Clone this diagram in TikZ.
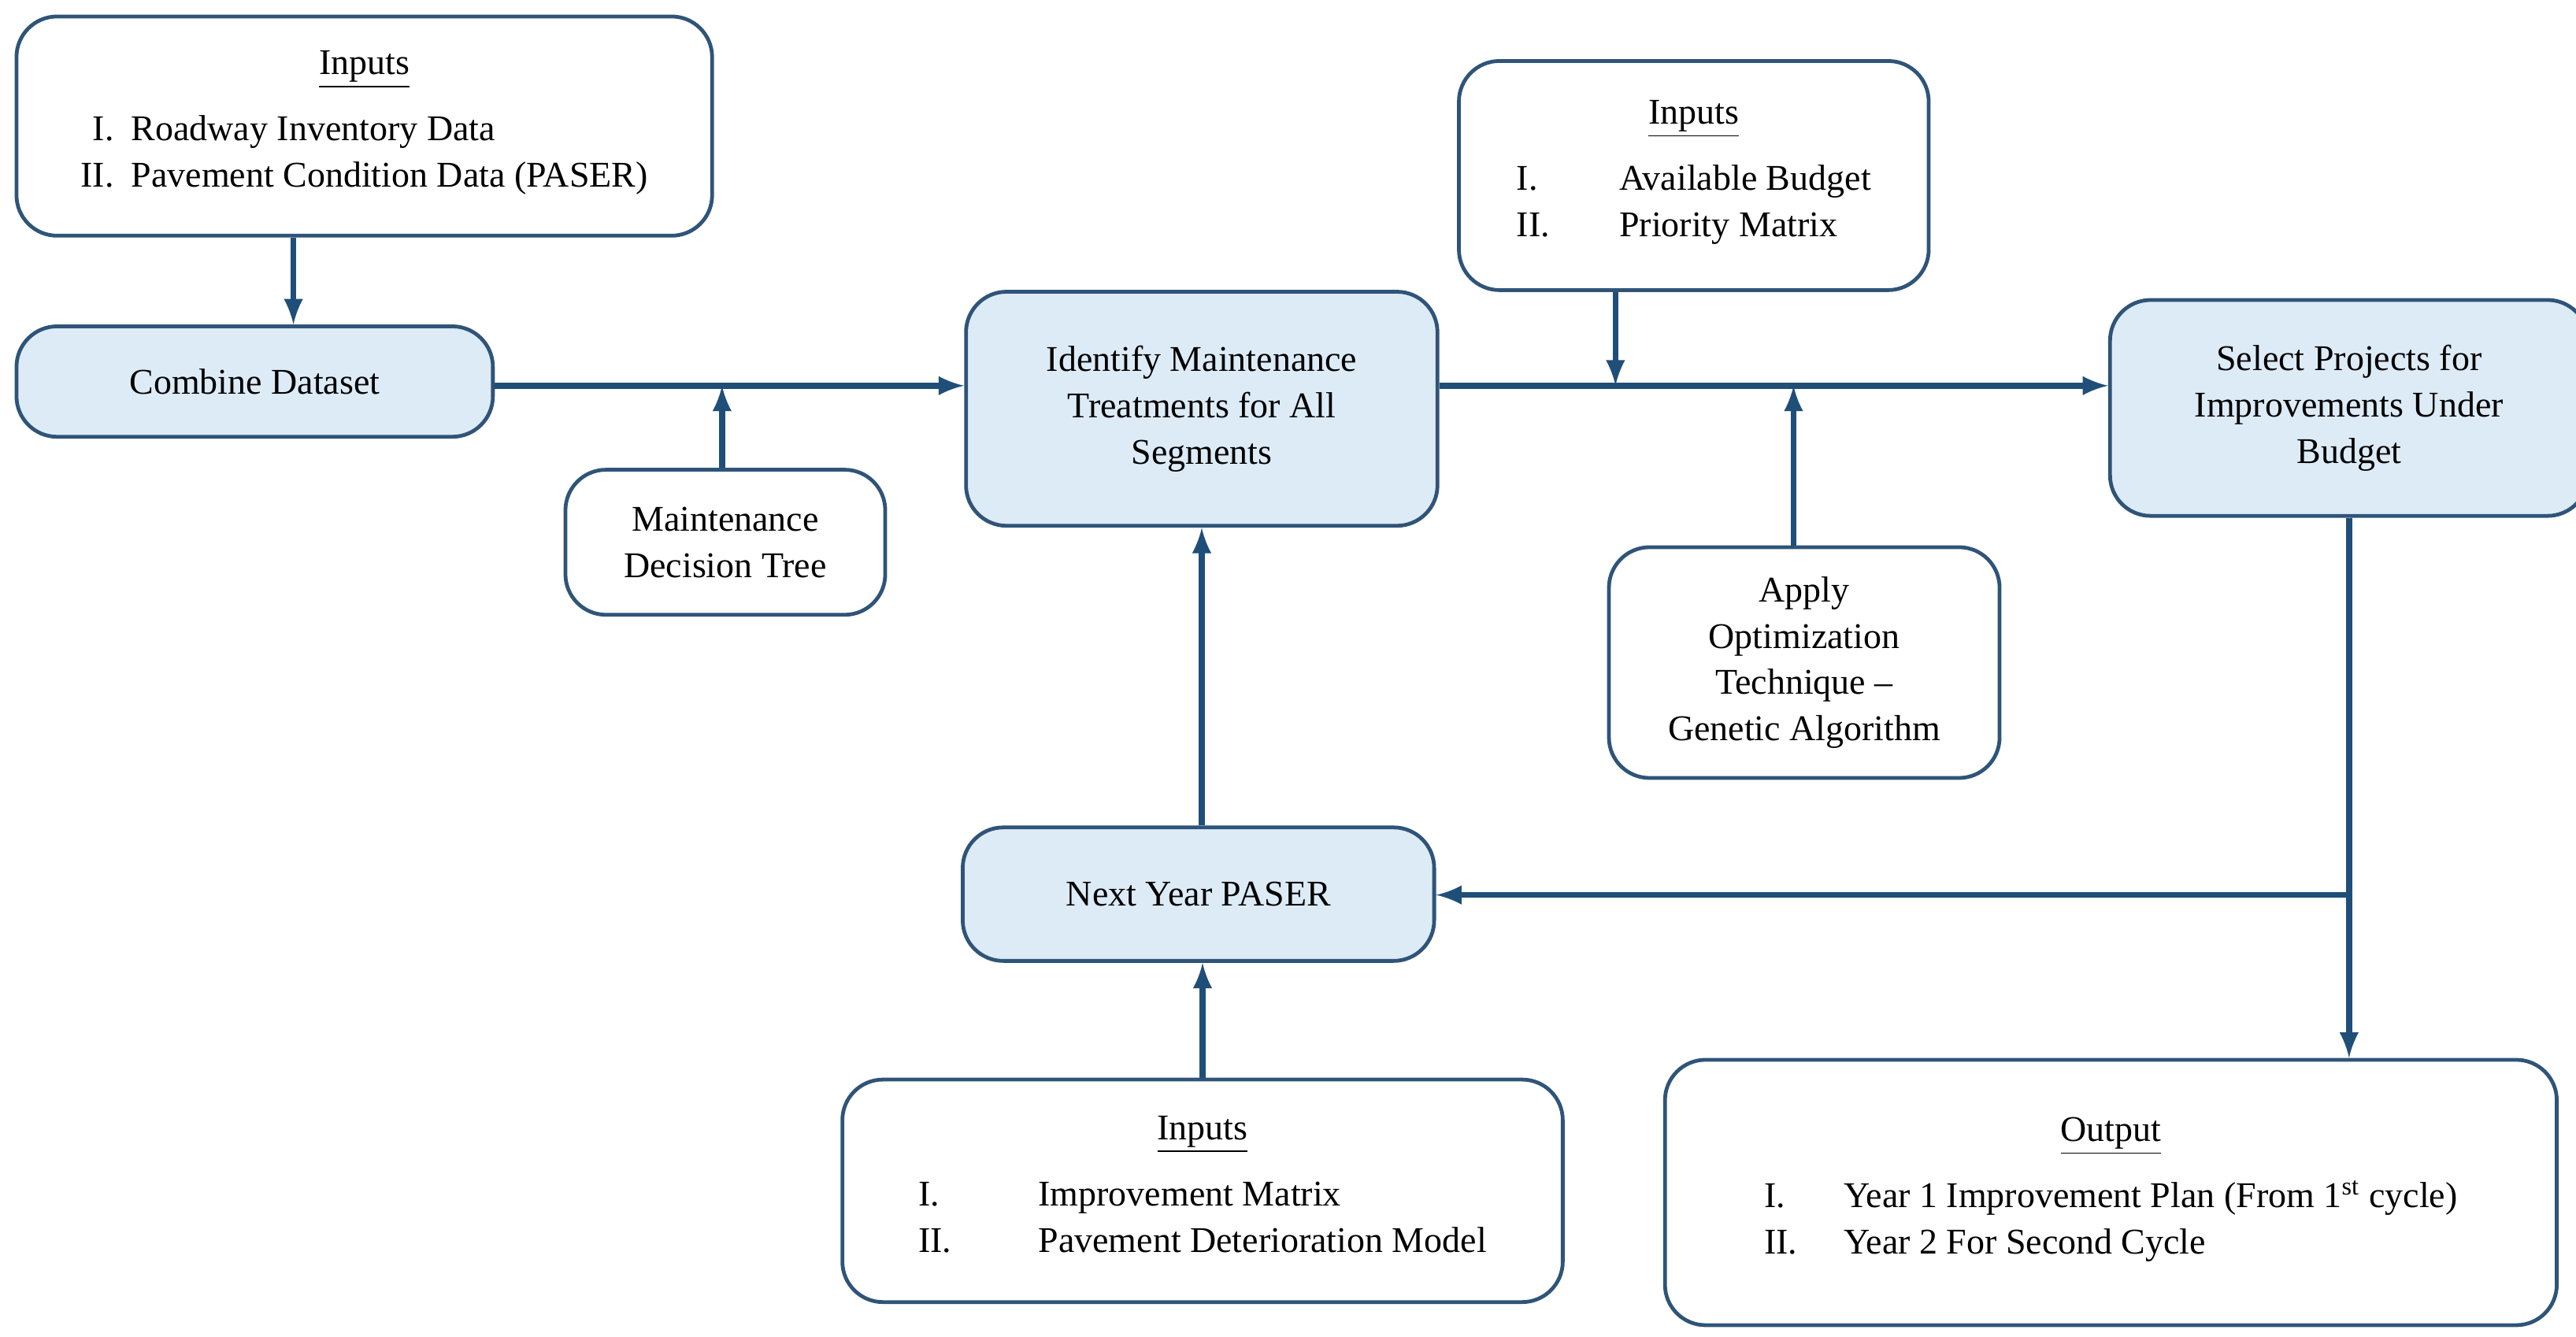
\documentclass[tikz,border=0pt]{standalone}
\usepackage{fontspec}
\setmainfont{Liberation Serif}
\usepackage{xcolor}
\definecolor{flowline}{RGB}{31,78,121}
\definecolor{stagefill}{RGB}{221,235,247}
\definecolor{boxline}{RGB}{47,84,120}
\tikzstyle{box}=[draw=boxline, line width=1.3pt, rounded corners=14pt, align=center, font=\fontsize{12.5}{16}\selectfont]
\tikzset{stage/.style={box, fill=stagefill}}
\tikzset{flow/.style={-latex, line width=2pt, color=flowline}}
\newcommand{\boxat}[4]{(#1*0.02,-#2*0.02) node[minimum width=#3*0.02cm, minimum height=#4*0.02cm]}

\begin{document}
\begin{tikzpicture}
  \useasboundingbox (0,0) rectangle (31.26,-16.22);
  \clip (0,0) rectangle (31.26,-16.22);
  %% Boxes
  \draw \boxat{221}{76.5}{422}{133} [box] (inA) {\underline{Inputs}\\[6pt]
    \begin{tabular}{@{}r@{\hspace{6pt}}l@{}}I. & Roadway Inventory Data\\ II. & Pavement Condition Data (PASER)\end{tabular}};
  \draw \boxat{154.5}{231.5}{289}{67} [stage] (comb) {Combine Dataset};
  \draw \boxat{440}{329}{194}{88} [box] (tree) {Maintenance\\Decision Tree};
  \draw \boxat{729}{248}{286}{142} [stage] (ident) {Identify Maintenance\\Treatments for All\\Segments};
  \draw \boxat{1027.5}{106.5}{285}{139} [box] (inB) {\underline{Inputs}\\[6pt]
    \begin{tabular}{@{}l@{\hspace{24pt}}l@{}}I. & Available Budget\\ II. & Priority Matrix\end{tabular}};
  \draw \boxat{1425}{247.5}{290}{131} [stage] (sel) {Select Projects for\\Improvements Under\\Budget};
  \draw \boxat{1094.5}{402}{237}{140} [box] (opt) {Apply\\Optimization\\Technique --\\Genetic Algorithm};
  \draw \boxat{727}{542.5}{286}{81} [stage] (next) {Next Year PASER};
  \draw \boxat{729.5}{722.5}{437}{135} [box] (inC) {\underline{Inputs}\\[6pt]
    \begin{tabular}{@{}l@{\hspace{30pt}}l@{}}I. & Improvement Matrix\\ II. & Pavement Deterioration Model\end{tabular}};
  \draw \boxat{1280.5}{723.5}{541}{161} [box] (outp) {\underline{Output}\\[6pt]
    \begin{tabular}{@{}l@{\hspace{16pt}}l@{}}I. & Year 1 Improvement Plan (From 1\textsuperscript{st} cycle)\\ II. & Year 2 For Second Cycle\end{tabular}};

  %% Junctions
  \coordinate (j0) at (178*0.02,-170*0.02);
  \coordinate (j1) at (438*0.02,-234*0.02);
  \coordinate (j2) at (980*0.02,-234*0.02);
  \coordinate (j3) at (1088*0.02,-234*0.02);
  \coordinate (j4) at (1425*0.02,-543*0.02);

  %% Connectors
  \draw[flow] (inA.south -| j0) -- (comb.north -| j0);
  \draw[flow] (comb.east |- j1) -- (ident.west |- j1);
  \draw[flow] (tree.north -| j1) -- (j1);
  \draw[flow] (ident.east |- j2) -- (sel.west |- j2);
  \draw[flow] (inB.south -| j2) -- (j2);
  \draw[flow] (opt.north -| j3) -- (j3);
  \draw[flow] (sel.south) -- (outp.north -| sel.south);
  \draw[flow] (j4) -- (next.east |- j4);
  \draw[flow] (next.north -| ident.south) -- (ident.south);
  \draw[flow] (inC.north) -- (next.south -| inC.north);
\end{tikzpicture}
\end{document}
